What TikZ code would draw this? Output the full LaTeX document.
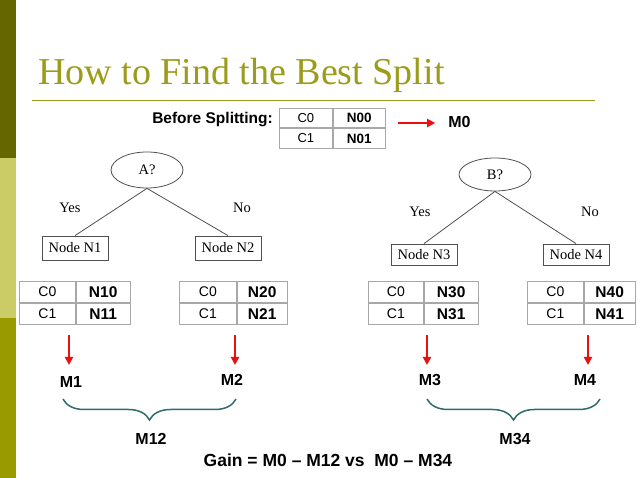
\documentclass[tikz,border=0pt]{standalone}
\usepackage{fontspec}
\setmainfont{Liberation Serif}
\setsansfont{Liberation Sans}
\usetikzlibrary{shapes.geometric,decorations.pathreplacing,arrows.meta}
\definecolor{bardark}{HTML}{666600}
\definecolor{barlight}{HTML}{CCCC66}
\definecolor{barmid}{HTML}{999900}
\definecolor{titlecol}{HTML}{9C9C1C}
\definecolor{tgray}{HTML}{A8A8A8}
\definecolor{bracecol}{HTML}{2E6B6B}
\definecolor{arrred}{HTML}{E81010}
\definecolor{treegray}{HTML}{505050}
% #1 name, #2 x, #3 y, #4 left width, #5 right width, #6 row height, #7 digit, #8 regular size, #9 bold size
\newcommand\dtable[9]{%
  \node[cell, minimum width=#4pt, minimum height=#6pt, anchor=north west, font=\sffamily\fontsize{#8}{#8}\selectfont] (#1a) at (#2,#3) {C0};
  \node[cell, minimum width=#5pt, minimum height=#6pt, anchor=north west, font=\sffamily\bfseries\fontsize{#9}{#9}\selectfont] (#1b) at (#1a.north east) {N#70};
  \node[cell, minimum width=#4pt, minimum height=#6pt, anchor=north west, font=\sffamily\fontsize{#8}{#8}\selectfont] (#1c) at (#1a.south west) {C1};
  \node[cell, minimum width=#5pt, minimum height=#6pt, anchor=north west, font=\sffamily\bfseries\fontsize{#9}{#9}\selectfont] (#1d) at (#1a.south east) {N#71};
}
\begin{document}
\begin{tikzpicture}[x=1pt,y=-1pt,
  cell/.style={rectangle, draw=tgray, line width=0.8pt, inner sep=0pt},
  treefont/.style={font=\fontsize{14.5}{16}\selectfont},
  ques/.style={ellipse, draw=treegray, line width=0.8pt, inner sep=0pt, treefont},
  nodebox/.style={rectangle, draw=treegray, line width=0.8pt, inner sep=0pt, treefont},
  treeline/.style={draw=treegray, line width=0.8pt},
  lab/.style={inner sep=0pt, treefont},
  mlab/.style={inner sep=0pt, font=\sffamily\bfseries\fontsize{16}{18}\selectfont},
  redarrow/.style={draw=arrred, line width=2pt, -{Triangle[length=8pt,width=8pt]}},
  bracestyle/.style={draw=bracecol, line width=1.5pt, decorate, decoration={brace, mirror, amplitude=21pt}}
]
\useasboundingbox (0,0) rectangle (638,478);
\fill[white] (0,0) rectangle (638,478);
\fill[bardark] (0,0) rectangle (16,158);
\fill[barlight] (0,158) rectangle (16,318);
\fill[barmid] (0,318) rectangle (16,478);

\node[anchor=base west, text=titlecol, inner sep=0pt, font=\fontsize{38}{40}\selectfont] (title) at (38,85) {How to Find the Best Split};
\coordinate (rulel) at (32,100.5);
\coordinate (ruler) at (595,100.5);
\draw[titlecol, line width=1.5pt] (rulel) -- (ruler);

\node[anchor=east, inner sep=0pt, font=\sffamily\bfseries\fontsize{15.5}{18}\selectfont] (before) at (273,120) {Before Splitting:};
\dtable{T0}{279}{108}{53}{52}{19.5}{0}{13}{13.5}
\node[mlab] (M0) at (459.5,122) {M0};
\coordinate (m0s) at (398,123);
\draw[redarrow, shorten >=13pt] (m0s) -- (m0s -| M0.west);

% tree A
\node[ques, minimum width=72pt, minimum height=36pt] (A) at (147,170) {A?};
\node[nodebox, minimum width=66pt, minimum height=24pt] (N1) at (75,248) {Node N1};
\node[nodebox, minimum width=66pt, minimum height=24pt] (N2) at (228,248) {Node N2};
\draw[treeline] (A.south) -- (N1.north);
\draw[treeline] (A.south) -- (N2.north);
\node[lab] (yesA) at (70,208) {Yes};
\node[lab] (noA) at (242,208) {No};

% tree B
\node[ques, minimum width=72pt, minimum height=33pt] (B) at (495,174.5) {B?};
\node[nodebox, minimum width=66pt, minimum height=21pt] (N3) at (424,254.5) {Node N3};
\node[nodebox, minimum width=66pt, minimum height=21pt] (N4) at (576,254.5) {Node N4};
\draw[treeline] (B.south) -- (N3.north);
\draw[treeline] (B.south) -- (N4.north);
\node[lab] (yesB) at (420,212) {Yes};
\node[lab] (noB) at (590,212) {No};

% tables
\dtable{T1}{19}{281}{56}{54}{21}{1}{14}{15.5}
\dtable{T2}{179}{281}{57}{50}{21}{2}{14}{15.5}
\dtable{T3}{368}{281}{55}{54}{21}{3}{14}{15.5}
\dtable{T4}{527}{281}{56}{51}{21}{4}{14}{15.5}

% measures
\node[mlab] (M1) at (71,382) {M1};
\node[mlab] (M2) at (232,380) {M2};
\node[mlab] (M3) at (430,380) {M3};
\node[mlab] (M4) at (585,380) {M4};
\coordinate (a1) at (69,335);
\coordinate (a2) at (235,335);
\coordinate (a3) at (427,335);
\coordinate (a4) at (588,335);
\draw[redarrow] (a1) -- ++(0,30);
\draw[redarrow] (a2) -- ++(0,30);
\draw[redarrow] (a3) -- ++(0,30);
\draw[redarrow] (a4) -- ++(0,30);

% braces
\coordinate (b1l) at (63,399);
\coordinate (b1r) at (236,399);
\coordinate (b2l) at (427,399);
\coordinate (b2r) at (600,399);
\draw[bracestyle] (b1l) -- (b1r);
\draw[bracestyle] (b2l) -- (b2r);
\node[mlab] (M12) at (151,439) {M12};
\node[mlab] (M34) at (515,439) {M34};
\node[inner sep=0pt, font=\sffamily\bfseries\fontsize{17.5}{20}\selectfont] (gain) at (328,460) {Gain = M0 – M12 vs\ \ M0 – M34};
\end{tikzpicture}
\end{document}
